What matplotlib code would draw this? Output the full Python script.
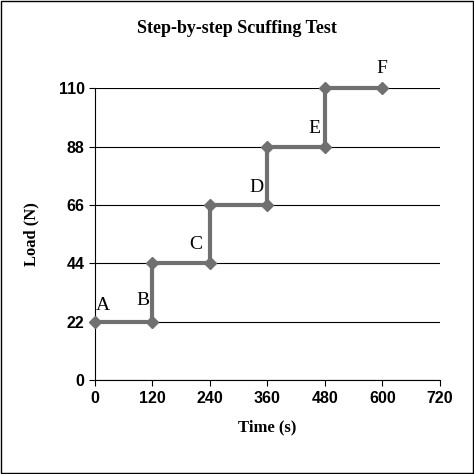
import matplotlib.pyplot as plt
from matplotlib.patches import Rectangle

# step profile of the scuffing test
time_s = [0, 120, 120, 240, 240, 360, 360, 480, 480, 600]
load_n = [22, 22, 44, 44, 66, 66, 88, 88, 110, 110]
stage_labels = ["A", "B", "C", "D", "E", "F"]
stage_x = [17, 100, 211, 336, 457, 599]
stage_y = [28.3, 30.1, 51.2, 72.7, 94.9, 117.5]
xticks = [0, 120, 240, 360, 480, 600, 720]
yticks = [0, 22, 44, 66, 88, 110]

fig = plt.figure(figsize=(4.74, 4.74), dpi=100)
fig.patches.append(Rectangle((0.002, 0.002), 0.996, 0.996, transform=fig.transFigure,
                             fill=False, edgecolor="black", linewidth=1))
ax = fig.add_axes([0.2004, 0.198, 0.7278, 0.616])

ax.plot(time_s, load_n, color="#707070", linewidth=3, marker="D", markersize=6,
        clip_on=False, zorder=3)

for lab, x, y in zip(stage_labels, stage_x, stage_y):
    ax.text(x, y, lab, fontsize=14, family="Liberation Serif", ha="center", va="center")

ax.set_xlim(0, 720)
ax.set_ylim(0, 110)
ax.set_xticks(xticks)
ax.set_yticks(yticks)
ax.yaxis.grid(True, color="black", linewidth=0.8)
ax.set_axisbelow(True)
for s in ["top", "right"]:
    ax.spines[s].set_visible(False)
ax.tick_params(direction="out", length=4)
for t in ax.get_xticklabels() + ax.get_yticklabels():
    t.set_fontfamily("Liberation Sans")
    t.set_fontweight("bold")
    t.set_fontsize(11.5)

ax.set_xlabel("Time (s)", fontsize=12, fontweight="bold", family="Liberation Serif", labelpad=10)
ax.set_ylabel("Load (N)", fontsize=12, fontweight="bold", family="Liberation Serif", labelpad=14)
fig.text(0.5, 0.94, "Step-by-step Scuffing Test", ha="center", va="center",
         fontsize=13, fontweight="bold", family="Liberation Serif")

fig.savefig("out.png", dpi=100)
